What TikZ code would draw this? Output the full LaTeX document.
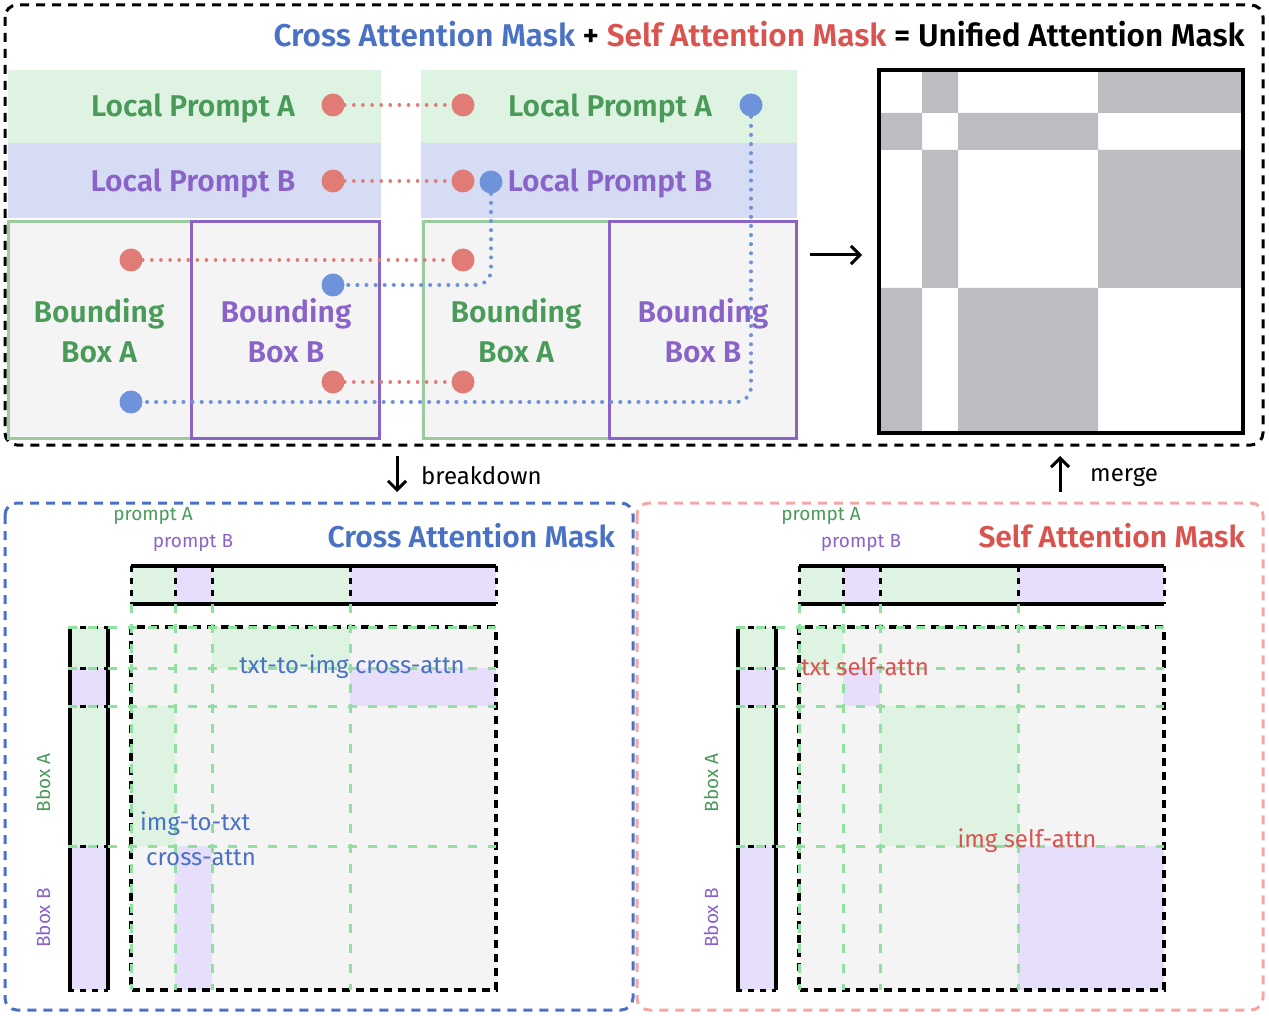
\documentclass[tikz,border=0pt]{standalone}
\usepackage{fontspec}
\setmainfont{Fira Sans}[BoldFont={Fira Sans SemiBold}]
\usetikzlibrary{arrows.meta}
\definecolor{cblue}{HTML}{4A72C4}
\definecolor{cred}{HTML}{D9534F}
\definecolor{tgreen}{HTML}{4A9A5A}
\definecolor{tpurp}{HTML}{8A63C8}
\definecolor{fgreen}{HTML}{DFF3E3}
\definecolor{fblue}{HTML}{D6DCF4}
\definecolor{fpurp}{HTML}{E6DEFA}
\definecolor{fgrey}{HTML}{F4F4F4}
\definecolor{dred}{HTML}{E07B76}
\definecolor{dblue}{HTML}{6F93DA}
\definecolor{egreen}{HTML}{9ACB9F}
\definecolor{epurp}{HTML}{8A63C8}
\definecolor{gcell}{HTML}{BBBDC0}
\definecolor{lgreen}{HTML}{90E0A0}
\definecolor{pink}{HTML}{F4A7A5}
\tikzset{x=1pt,y=-1pt,
 big/.style={font=\fontsize{30}{40}\selectfont\bfseries},
 rdot/.style={circle,fill=dred,minimum size=23pt,inner sep=0},
 bdot/.style={circle,fill=dblue,minimum size=23pt,inner sep=0},
 rline/.style={dred,line width=3.5pt,line cap=round,dash pattern=on 0.1pt off 9pt},
 bline/.style={dblue,line width=4pt,line cap=round,dash pattern=on 0.1pt off 9pt,rounded corners=15pt},
 gline/.style={lgreen,line width=3pt,dash pattern=on 9pt off 11pt},
 mlab/.style={font=\fontsize{24}{26}\selectfont,inner sep=0},
 small/.style={font=\fontsize{19}{22}\selectfont,inner sep=0},
 barb/.style={-{Straight Barb[length=9pt,width=18pt]},line width=3pt},
}
\begin{document}
\begin{tikzpicture}
\useasboundingbox (0,0) rectangle (1269,1016);
% outer box
\draw[black,line width=3pt,dash pattern=on 9pt off 7pt,rounded corners=12pt] (5,5) rectangle (1263,445);
\node[font=\fontsize{31.5}{36}\selectfont\bfseries,anchor=base east,inner sep=0] (title) at (1245,47) {\textcolor{cblue}{Cross Attention Mask} + \textcolor{cred}{Self Attention Mask} = Unified Attention Mask};
% panels
\fill[fgreen] (8,70) rectangle (381,143);
\fill[fblue] (8,143) rectangle (381,218);
\fill[fgrey] (8,220) rectangle (381,438);
\draw[egreen,line width=3pt] (8,222) rectangle (191,438);
\draw[epurp,line width=3pt] (191,222) rectangle (379,438);
\fill[fgreen] (421,70) rectangle (797,143);
\fill[fblue] (421,143) rectangle (797,218);
\fill[fgrey] (421,220) rectangle (797,438);
\draw[egreen,line width=3pt] (423,222) rectangle (609,438);
\draw[epurp,line width=3pt] (609,222) rectangle (796,438);
\node[big,text=tgreen] (lpaL) at (193,108) {Local Prompt A};
\node[big,text=tpurp] (lpbL) at (193,183) {Local Prompt B};
\node[big,text=tgreen,align=center] (bbaL) at (99,331) {Bounding\\Box A};
\node[big,text=tpurp,align=center] (bbbL) at (286,331) {Bounding\\Box B};
\node[big,text=tgreen] (lpaR) at (610,108) {Local Prompt A};
\node[big,text=tpurp] (lpbR) at (610,183) {Local Prompt B};
\node[big,text=tgreen,align=center] (bbaR) at (516,331) {Bounding\\Box A};
\node[big,text=tpurp,align=center] (bbbR) at (703,331) {Bounding\\Box B};
% dots
\node[rdot] (r1a) at (333,105) {}; \node[rdot] (r1b) at (463,105) {};
\node[rdot] (r2a) at (333,181) {}; \node[rdot] (r2b) at (463,181) {};
\node[rdot] (r3a) at (131,260) {}; \node[rdot] (r3b) at (463,260) {};
\node[rdot] (r4a) at (333,382) {}; \node[rdot] (r4b) at (463,382) {};
\draw[rline] (r1a) -- (r1b); \draw[rline] (r2a) -- (r2b);
\draw[rline] (r3a) -- (r3b); \draw[rline] (r4a) -- (r4b);
\node[bdot] (b1) at (751,105) {}; \node[bdot] (b2) at (491,182) {};
\node[bdot] (b3) at (333,285) {}; \node[bdot] (b4) at (131,402) {};
\draw[bline] (b1) -- (751,402) -- (b4);
\draw[bline] (b2) -- (491,285) -- (b3);
% unified
\coordinate (ua) at (810,255);
\coordinate (ub) at (862,255);
\draw[barb] (ua) -- (ub);
\fill[white] (879,70) rectangle (1243,433);
\fill[gcell] (922,70) rectangle (958,113) (1098,70) rectangle (1243,113)
 (879,113) rectangle (922,150) (958,113) rectangle (1098,150)
 (922,150) rectangle (958,288) (1098,150) rectangle (1243,288)
 (879,288) rectangle (922,433) (958,288) rectangle (1098,433);
\draw[line width=4pt] (879,70) rectangle (1243,433);
% arrows
\coordinate (bd1) at (397,456); \coordinate (bd2) at (397,492);
\draw[barb] (bd1) -- (bd2);
\node[mlab,anchor=west] (bdl) at (421,476) {breakdown};
\coordinate (mg1) at (1060,492); \coordinate (mg2) at (1060,456);
\draw[barb] (mg1) -- (mg2);
\node[mlab,anchor=west] (mgl) at (1090,477) {merge};
% bottom boxes
\draw[cblue,line width=3pt,dash pattern=on 9pt off 7pt,rounded corners=12pt] (5,503) rectangle (633,1010);
\draw[pink,line width=3pt,dash pattern=on 9pt off 7pt,rounded corners=12pt] (637,503) rectangle (1263,1010);
\foreach \dx in {0,668}{
\begin{scope}[xshift=\dx pt]
 \fill[fgreen] (131,566) rectangle (175,604) (212,566) rectangle (350,604);
 \fill[fpurp] (175,566) rectangle (212,604) (350,566) rectangle (496,604);
 \draw[line width=4pt] (131,566) -- (496,566) (131,604) -- (496,604);
 \draw[line width=3pt,dash pattern=on 6pt off 6pt] (131,566) -- (131,604) (175,566)--(175,604) (212,566)--(212,604) (350,566)--(350,604) (496,566)--(496,604);
 \fill[fgreen] (68,627) rectangle (108,668) (68,706) rectangle (108,846);
 \fill[fpurp] (68,668) rectangle (108,706) (68,846) rectangle (108,990);
 \draw[line width=4pt] (70,627) -- (70,990) (108,627) -- (108,990);
 \draw[line width=3pt,dash pattern=on 6pt off 6pt] (68,627)--(108,627) (68,668)--(108,668) (68,706)--(108,706) (68,846)--(108,846) (68,990)--(108,990);
 \fill[fgrey] (131,627) rectangle (496,990);
\end{scope}}
% cross cells
\fill[fgreen] (212,627) rectangle (350,668) (131,706) rectangle (175,846);
\fill[fpurp] (350,668) rectangle (496,706) (175,846) rectangle (212,990);
% self cells
\fill[fgreen] (799,627) rectangle (843,668) (880,706) rectangle (1018,846);
\fill[fpurp] (843,668) rectangle (880,706) (1018,846) rectangle (1164,990);
\foreach \dx in {0,668}{
\begin{scope}[xshift=\dx pt]
 \draw[line width=3.5pt,dash pattern=on 8pt off 6pt] (131,627) rectangle (496,990);
 \foreach \xx in {131,175,212,350}{\draw[gline] (\xx,604) -- (\xx,990);}
 \foreach \yy in {627,668,706,846}{\draw[gline] (68,\yy) -- (496,\yy);}
 \node[small,text=tgreen] at (153,516) {prompt A};
 \node[small,text=tpurp] at (193,543) {prompt B};
 \node[small,text=tgreen,rotate=90] at (43,783) {Bbox A};
 \node[small,text=tpurp,rotate=90] at (43,918) {Bbox B};
\end{scope}}
\node[big,text=cblue,anchor=base east,inner sep=0] (ct) at (615,547) {Cross Attention Mask};
\node[big,text=cred,anchor=base east,inner sep=0] (st) at (1245,547) {Self Attention Mask};
\node[mlab,text=cblue] (t2i) at (352,667) {txt-to-img cross-attn};
\node[mlab,text=cblue,anchor=west] (i2t) at (140,824) {img-to-txt};
\node[mlab,text=cblue,anchor=west] (i2t2) at (146,858) {cross-attn};
\node[mlab,text=cred] (tsa) at (865,667) {txt self-attn};
\node[mlab,text=cred] (isa) at (1027,841) {img self-attn};
\end{tikzpicture}
\end{document}
